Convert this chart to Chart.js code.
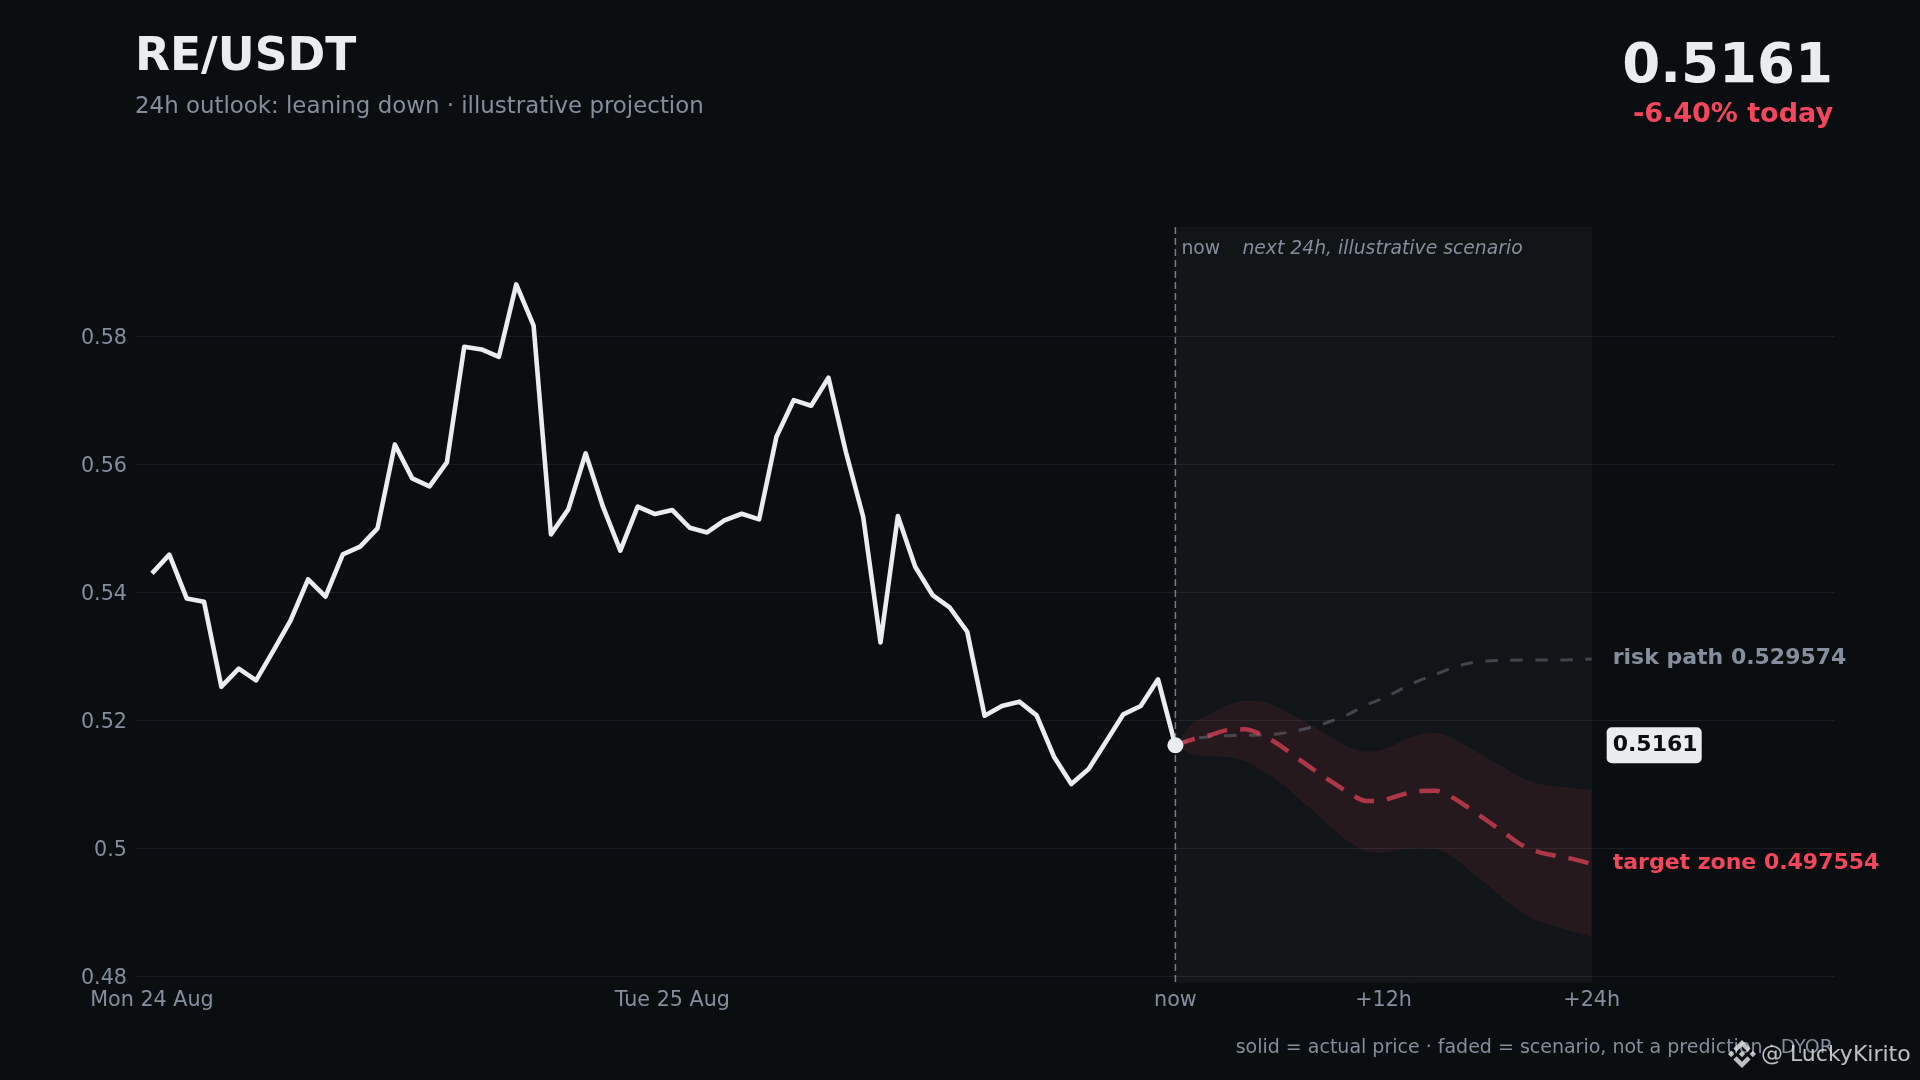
<!DOCTYPE html>
<html>
<head>
<meta charset="utf-8">
<title>RE/USDT</title>
<script src="https://cdn.jsdelivr.net/npm/chart.js@4/dist/chart.umd.js"></script>
<style>
    html, body { margin: 0; padding: 0; background: #0b0e11; }
    body { width: 1920px; height: 1080px; overflow: hidden; position: relative; font-family: "DejaVu Sans", sans-serif; }
    #chart { position: absolute; left: 0; top: 0; }
    .txt { position: absolute; white-space: nowrap; line-height: 1; }
    #title { left: 135px; top: 32px; font-size: 45.5px; font-weight: bold; color: #eaecef; }
    #sub { left: 135px; top: 94px; font-size: 22.9px; color: #848e9c; }
    #price { right: 87px; top: 36px; font-size: 54.6px; font-weight: bold; color: #eaecef; }
    #change { right: 87px; top: 99px; font-size: 27px; font-weight: bold; color: #f6465d; }
    #foot { right: 87px; top: 1037px; font-size: 19px; color: #848e9c; }
    #mark { left: 1761px; top: 1043px; font-size: 22px; color: rgba(234, 236, 239, 0.8); }
    #logo { position: absolute; left: 1728px; top: 1040px; width: 28px; height: 28px; fill: rgba(234, 236, 239, 0.8); }
</style>
</head>
<body>
<canvas id="chart" width="1920" height="1080"></canvas>
<div class="txt" id="title">RE/USDT</div>
<div class="txt" id="sub">24h outlook: leaning down · illustrative projection</div>
<div class="txt" id="price">0.5161</div>
<div class="txt" id="change">-6.40% today</div>
<div class="txt" id="foot">solid = actual price · faded = scenario, not a prediction · DYOR</div>
<svg id="logo" viewBox="0 0 126.61 126.61"><path d="M38.73 53.2l24.59-24.58 24.6 24.6 14.3-14.31L63.32 0 24.43 38.9l14.3 14.3zM0 63.31l14.3-14.31 14.31 14.31-14.31 14.3zM38.73 73.41l24.59 24.59 24.6-24.6 14.31 14.29-38.9 38.91-38.91-38.88-.02-.02zM98 63.31l14.3-14.31 14.31 14.3-14.31 14.32zM77.83 63.3L63.32 48.78 52.59 59.51l-1.24 1.23-2.54 2.54 14.51 14.5 14.51-14.47z"/></svg>
<div class="txt" id="mark">@ LuckyKirito</div>

<script>
// hours relative to "now", actual price is hourly up to hour 0
var actualPrice = [
    0.54297, 0.54589, 0.53906, 0.53854, 0.52526, 0.52807, 0.52625, 0.53089, 0.53568, 0.54203,
    0.53932, 0.54594, 0.54714, 0.55000, 0.56312, 0.55781, 0.55656, 0.56031, 0.57839, 0.57797,
    0.57682, 0.58813, 0.58167, 0.54906, 0.55297, 0.56172, 0.55339, 0.54651, 0.55339, 0.55224,
    0.55286, 0.55010, 0.54937, 0.55125, 0.55229, 0.55141, 0.56432, 0.57005, 0.56917, 0.57354,
    0.56198, 0.55182, 0.53219, 0.55193, 0.54401, 0.53958, 0.53760, 0.53385, 0.52073, 0.52224,
    0.52292, 0.52078, 0.51432, 0.51005, 0.51240, 0.51667, 0.52094, 0.52224, 0.52641, 0.51610
];
var targetPath = [
    0.51610, 0.51703, 0.51770, 0.51848, 0.51859, 0.51770, 0.51614, 0.51416, 0.51224, 0.51041,
    0.50869, 0.50740, 0.50755, 0.50833, 0.50896, 0.50900, 0.50792, 0.50614, 0.50427, 0.50234,
    0.50047, 0.49937, 0.49880, 0.49828, 0.49755
];
var bandUpper = [
    0.51610, 0.51953, 0.52099, 0.52240, 0.52307, 0.52292, 0.52198, 0.52047, 0.51901, 0.51734,
    0.51578, 0.51510, 0.51552, 0.51667, 0.51771, 0.51802, 0.51719, 0.51563, 0.51406, 0.51250,
    0.51094, 0.51005, 0.50969, 0.50938, 0.50911
];
var bandLower = [
    0.51610, 0.51469, 0.51438, 0.51427, 0.51370, 0.51214, 0.51040, 0.50807, 0.50573, 0.50323,
    0.50104, 0.49958, 0.49932, 0.49974, 0.50000, 0.49984, 0.49859, 0.49646, 0.49427, 0.49193,
    0.48995, 0.48854, 0.48776, 0.48688, 0.48620
];
var riskPath = [
    0.51610, 0.51708, 0.51745, 0.51760, 0.51766, 0.51770, 0.51792, 0.51839, 0.51901, 0.51990,
    0.52099, 0.52240, 0.52344, 0.52484, 0.52615, 0.52719, 0.52823, 0.52896, 0.52927, 0.52938,
    0.52943, 0.52943, 0.52943, 0.52948, 0.52957
];
var yTicks = [0.48, 0.5, 0.52, 0.54, 0.56, 0.58];
var xTicks = [-59, -29, 0, 12, 24];
var xTickLabels = ['Mon 24 Aug', 'Tue 25 Aug', 'now', '+12h', '+24h'];

var FONT = '"DejaVu Sans", sans-serif';
var WHITE = '#eaecef', GRAY = '#848e9c', RED = '#f6465d', BG = '#0b0e11';

function actualPoints() {
    return actualPrice.map(function (v, i) {
        return { x: i - (actualPrice.length - 1), y: v };
    });
}

function forecastPoints(values) {
    return values.map(function (v, i) {
        return { x: i, y: v };
    });
}

// shaded next 24h zone and the dashed now line
var zonePlugin = {
    id: 'zone',
    beforeDatasetsDraw: function (chart) {
        var ctx = chart.ctx, a = chart.chartArea;
        var x0 = chart.scales.x.getPixelForValue(0);
        var x1 = chart.scales.x.getPixelForValue(24);
        ctx.save();
        ctx.fillStyle = 'rgba(255, 255, 255, 0.03)';
        ctx.fillRect(x0, a.top, x1 - x0, a.bottom - a.top);
        ctx.strokeStyle = 'rgba(255, 255, 255, 0.025)';
        ctx.lineWidth = 1;
        ctx.strokeRect(x0, a.top, x1 - x0, a.bottom - a.top);
        ctx.restore();
    },
    afterDatasetsDraw: function (chart) {
        var ctx = chart.ctx, a = chart.chartArea;
        var x0 = chart.scales.x.getPixelForValue(0);
        ctx.save();
        ctx.strokeStyle = 'rgba(132, 142, 156, 0.85)';
        ctx.lineWidth = 1.5;
        ctx.setLineDash([7, 4]);
        ctx.beginPath();
        ctx.moveTo(x0, a.top);
        ctx.lineTo(x0, a.bottom);
        ctx.stroke();
        ctx.setLineDash([]);
        // end point sits above the dashed line
        ctx.fillStyle = WHITE;
        ctx.beginPath();
        ctx.arc(x0, chart.scales.y.getPixelForValue(actualPrice[actualPrice.length - 1]), 8, 0, Math.PI * 2);
        ctx.fill();
        ctx.restore();
    }
};

var labelPlugin = {
    id: 'labels',
    afterDraw: function (chart) {
        var ctx = chart.ctx, a = chart.chartArea;
        var xs = chart.scales.x, ys = chart.scales.y;
        var x = xs.getPixelForValue(24) + 21;
        var last = actualPrice[actualPrice.length - 1];
        ctx.save();
        ctx.textBaseline = 'middle';
        ctx.textAlign = 'left';

        ctx.font = 'bold 22px ' + FONT;
        ctx.fillStyle = GRAY;
        ctx.fillText('risk path 0.529574', x, ys.getPixelForValue(riskPath[24]) - 1);
        ctx.fillStyle = RED;
        ctx.fillText('target zone 0.497554', x, ys.getPixelForValue(targetPath[24]) - 1);

        var yNow = ys.getPixelForValue(last);
        ctx.fillStyle = WHITE;
        ctx.beginPath();
        ctx.roundRect(x - 6, yNow - 18, 95, 36, 5);
        ctx.fill();
        ctx.fillStyle = BG;
        ctx.fillText('0.5161', x, yNow);

        var x0 = xs.getPixelForValue(0);
        ctx.font = '18.8px ' + FONT;
        ctx.fillStyle = GRAY;
        ctx.fillText('now', x0 + 6, a.top + 22);
        ctx.font = 'italic 18.8px ' + FONT;
        ctx.fillText('next 24h, illustrative scenario', x0 + 67, a.top + 22);
        ctx.restore();
    }
};

var chart = new Chart(document.getElementById('chart').getContext('2d'), {
    type: 'line',
    data: {
        datasets: [
            { data: actualPoints(), borderColor: WHITE, borderWidth: 4.6, borderJoinStyle: 'round', pointRadius: 0, tension: 0, order: 1 },
            { data: forecastPoints(targetPath), borderColor: 'rgba(246, 70, 93, 0.65)', borderWidth: 4.5, borderDash: [20.5, 13], pointRadius: 0, cubicInterpolationMode: 'monotone', order: 2 },
            { data: forecastPoints(riskPath), borderColor: 'rgba(132, 142, 156, 0.4)', borderWidth: 3, borderDash: [12.5, 12.5], pointRadius: 0, cubicInterpolationMode: 'monotone', order: 3 },
            { data: forecastPoints(bandUpper), borderWidth: 0, borderColor: 'transparent', backgroundColor: 'rgba(246, 70, 93, 0.09)', fill: '+1', pointRadius: 0, cubicInterpolationMode: 'monotone', order: 4 },
            { data: forecastPoints(bandLower), borderWidth: 0, borderColor: 'transparent', pointRadius: 0, cubicInterpolationMode: 'monotone', order: 5 }
        ]
    },
    options: {
        responsive: false,
        animation: false,
        events: [],
        layout: { padding: { left: 0, right: 86, top: 227, bottom: 0 } },
        plugins: { legend: { display: false }, title: { display: false }, tooltip: { enabled: false } },
        scales: {
            x: {
                type: 'linear',
                min: -59.98,
                max: 37.97,
                afterFit: function (scale) { scale.height = 97.3; },
                afterBuildTicks: function (scale) {
                    scale.ticks = xTicks.map(function (v) { return { value: v }; });
                },
                grid: { display: false },
                border: { display: false },
                ticks: {
                    autoSkip: false,
                    maxRotation: 0,
                    padding: -3,
                    color: GRAY,
                    font: { family: FONT, size: 20.7 },
                    callback: function (v) { return xTickLabels[xTicks.indexOf(v)]; }
                }
            },
            y: {
                min: 0.479,
                max: 0.5971,
                afterFit: function (scale) { scale.width = 135; },
                afterBuildTicks: function (scale) {
                    scale.ticks = yTicks.map(function (v) { return { value: v }; });
                },
                grid: { color: '#1a1e24', lineWidth: 1, drawTicks: false },
                border: { display: false },
                ticks: {
                    padding: 8,
                    labelOffset: 2,
                    color: GRAY,
                    font: { family: FONT, size: 20.7 },
                    callback: function (v) { return String(v); }
                }
            }
        }
    },
    plugins: [zonePlugin, labelPlugin]
});
</script>
</body>
</html>
